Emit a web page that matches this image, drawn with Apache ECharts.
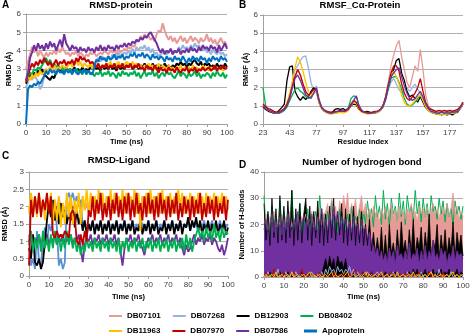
<!DOCTYPE html>
<html><head><meta charset="utf-8">
<script src="https://cdn.jsdelivr.net/npm/echarts@6/dist/echarts.min.js"></script>
<style>html,body{margin:0;padding:0;background:#fff}#c{width:474px;height:335px}</style>
</head><body><div id="c"></div><script>
// ---- shared x values ----
const timeNs = Array.from({length: 101}, (_, i) => i);
const residueIndex = [];
for (let r = 23; r <= 61; r += 2) residueIndex.push(String(r));
for (let r = 77; r <= 187; r += 2) residueIndex.push(String(r));

// ---- Panel A: RMSD-protein (Å) ----
const protDB07101 = [3.0,3.4,3.8,4.2,3.9,4.1,3.7,4.0,3.8,3.6,3.9,
 3.7,3.9,3.8,4.0,3.8,4.1,3.9,4.2,4.0,3.8,
 3.9,3.7,3.9,3.8,4.0,3.7,3.9,3.8,3.6,3.8,
 3.7,3.9,3.8,3.9,3.7,3.8,3.9,3.8,4.0,3.9,
 3.8,4.0,3.9,4.0,3.8,4.1,3.9,4.0,4.1,4.0,
 4.2,4.1,4.3,4.2,4.6,4.5,4.8,4.6,4.9,4.7,
 4.8,4.6,4.7,4.5,4.9,5.1,5.0,5.5,5.1,4.8,
 4.6,4.8,4.5,4.7,4.4,4.6,4.8,4.5,4.7,4.4,
 4.6,4.8,4.5,4.7,4.6,4.4,4.7,4.5,4.6,4.9,
 4.5,4.7,4.4,4.6,4.3,4.5,4.7,4.4,4.5,4.2];
const protDB07268 = [2.0,2.3,2.6,2.4,2.7,2.5,2.3,1.9,2.1,2.6,3.0,
 2.8,3.1,2.9,3.0,2.8,3.1,2.9,3.0,2.8,3.1,
 2.9,3.0,2.8,3.1,2.9,3.0,2.8,3.1,2.9,3.0,
 2.9,3.1,3.0,3.3,3.5,3.6,3.4,3.7,3.5,3.6,
 3.7,3.5,3.8,3.6,3.7,3.9,3.7,3.8,3.9,3.8,
 4.0,3.8,4.1,3.9,4.2,4.0,4.2,4.1,4.3,4.0,
 4.2,3.9,4.1,3.8,3.9,3.7,3.8,3.9,4.0,3.8,
 3.9,4.1,3.8,4.0,3.9,4.2,4.0,4.3,4.1,4.2,
 4.0,4.3,4.1,4.4,4.2,4.3,4.1,4.0,4.2,3.9,
 4.0,3.8,4.1,3.9,3.8,4.0,3.8,3.9,3.7,3.8];
const protDB12903 = [2.2,2.5,2.7,2.6,2.8,2.7,2.9,2.8,3.0,2.7,2.6,
 2.5,2.4,2.6,2.5,2.8,2.9,3.0,2.8,2.9,3.1,
 2.9,3.0,2.8,3.1,2.9,3.0,2.8,3.1,2.9,3.0,
 2.9,3.1,3.0,3.2,3.0,3.1,2.9,3.2,3.0,3.1,
 3.0,3.2,3.0,3.1,2.9,3.2,3.0,3.1,3.0,3.2,
 3.1,3.2,3.0,3.1,3.2,3.0,3.2,3.1,3.3,3.1,
 3.2,3.0,3.3,3.1,3.2,3.0,3.2,3.1,3.3,3.1,
 3.2,3.0,3.2,3.1,3.3,3.2,3.4,3.2,3.3,3.1,
 3.3,3.2,3.4,3.5,3.3,3.2,3.4,3.1,3.3,3.2,
 3.3,3.1,3.2,3.0,3.3,3.1,3.2,3.0,3.3,3.1];
const protDB08402 = [2.3,2.6,2.8,2.7,3.0,2.9,3.1,3.0,3.2,3.4,3.6,
 3.3,3.5,3.2,3.3,3.1,3.2,3.0,3.1,2.9,3.0,
 2.9,3.0,2.8,2.9,3.0,2.8,2.9,2.7,2.9,2.8,
 2.9,2.7,2.8,2.6,2.8,2.7,2.9,2.6,2.8,2.7,
 2.9,2.6,2.8,2.7,2.5,2.8,2.6,2.9,2.7,2.8,
 2.6,2.8,2.7,2.9,2.6,2.8,2.5,2.7,2.9,2.6,
 2.8,2.7,2.9,2.6,2.8,2.5,2.7,2.8,2.6,2.9,
 2.7,2.8,2.6,2.5,2.7,2.9,2.6,2.8,2.7,2.5,
 2.8,2.6,2.7,2.9,2.6,2.8,2.5,2.7,2.6,2.8,
 2.7,2.5,2.8,2.6,2.9,2.7,2.6,2.8,2.5,2.7];
const protDB11963 = [2.3,2.6,2.4,2.7,2.5,2.8,2.6,2.9,2.7,2.8,3.0,
 2.9,3.1,3.0,3.2,3.0,3.1,3.0,3.2,3.1,3.0,
 3.2,3.4,3.1,3.3,3.5,3.2,3.4,3.1,3.3,3.2,
 3.1,3.3,3.0,3.2,3.1,3.3,3.0,3.2,3.1,3.3,
 3.2,3.4,3.1,3.3,3.2,3.4,3.1,3.3,3.2,3.4,
 3.3,3.1,3.4,3.2,3.3,3.1,3.2,3.0,3.2,3.1,
 3.3,3.1,3.2,3.0,3.1,3.3,3.0,3.2,3.1,3.0,
 3.2,3.0,3.1,2.9,3.1,3.0,3.2,2.9,3.1,3.0,
 3.1,2.9,3.2,3.0,3.1,2.9,3.0,3.2,3.0,3.1,
 2.9,3.1,3.0,3.2,2.9,3.0,3.1,2.9,3.0,3.1];
const protDB07970 = [2.3,2.7,3.0,3.3,3.1,3.4,3.2,3.5,3.3,3.6,3.4,
 3.2,3.4,3.1,3.3,3.5,3.2,3.4,3.3,3.5,3.2,
 3.4,3.3,3.5,3.2,3.6,3.4,3.7,3.5,3.6,3.4,
 3.5,3.3,3.4,3.2,3.1,3.3,3.0,3.2,3.1,3.3,
 3.0,3.2,3.1,3.3,3.0,3.2,3.1,3.3,3.0,3.2,
 3.1,3.3,3.0,3.2,3.1,3.3,3.0,3.1,2.9,3.2,
 3.0,3.1,2.9,3.2,3.0,2.8,3.1,2.9,3.0,2.8,
 3.1,2.9,3.0,2.8,3.1,2.9,2.8,3.0,2.9,3.1,
 2.8,3.0,2.9,3.1,2.8,3.0,2.9,3.1,2.9,3.0,
 3.1,2.9,3.0,3.2,2.9,3.1,3.0,3.2,3.0,3.1];
const protDB07586 = [2.4,2.8,3.6,3.9,4.3,4.0,4.4,4.1,4.3,4.0,4.4,
 4.1,4.5,4.2,4.4,4.0,4.3,4.6,4.2,4.9,4.4,
 4.2,4.0,4.3,4.1,4.2,3.9,4.2,4.0,4.1,3.9,
 4.2,4.0,4.1,3.9,4.2,4.0,4.3,4.0,4.2,4.0,
 4.3,4.1,4.2,4.0,4.3,4.1,4.3,4.2,4.4,4.2,
 4.4,4.3,4.5,4.4,4.6,4.5,4.7,4.6,4.8,4.7,
 4.9,5.0,4.8,4.6,4.4,4.1,3.9,4.1,3.8,4.0,
 3.9,4.1,3.8,4.0,3.9,4.1,3.8,4.0,3.9,4.1,
 3.9,4.2,4.0,4.1,3.9,4.2,4.0,4.3,4.1,4.2,
 4.0,4.3,4.1,4.2,3.9,4.3,4.0,4.2,4.4,4.1];
const protApo = [0.0,1.9,2.1,2.0,2.2,2.1,2.3,2.2,2.4,2.6,2.9,
 2.7,3.0,2.8,2.9,2.7,3.0,2.8,2.9,2.7,3.0,
 2.8,2.9,2.7,3.0,2.8,2.7,2.9,2.8,3.0,2.7,
 2.9,2.8,2.7,3.1,3.5,3.4,3.7,3.5,3.6,3.4,
 3.7,3.5,3.6,3.8,3.5,3.7,3.6,3.8,3.5,3.7,
 3.6,3.8,3.7,3.9,3.6,3.8,3.7,3.9,3.6,3.8,
 3.7,3.5,3.8,3.6,3.7,3.5,3.7,3.6,3.4,3.7,
 3.5,3.6,3.4,3.7,3.5,3.6,3.4,3.7,3.5,3.3,
 3.6,3.4,3.7,3.5,3.6,3.4,3.7,3.5,3.6,3.3,
 3.6,3.4,3.7,3.5,3.6,3.4,3.7,3.5,3.6,3.4];

// ---- Panel B: RMSF Cα (Å) per residue ----
const rmsfDB07101 = [1.05,0.9,0.8,0.75,0.7,0.65,0.65,0.7,0.8,1.0,
 1.3,2.0,2.6,3.0,2.7,2.2,1.7,1.4,1.5,1.7,
 1.9,1.3,0.95,0.75,0.7,0.65,0.6,0.65,0.7,0.75,
 0.7,0.75,0.85,1.1,1.25,1.15,0.85,0.7,0.65,0.6,
 0.6,0.65,0.6,0.7,0.8,1.05,1.5,2.3,3.2,3.8,
 4.3,4.6,3.7,3.0,2.3,2.0,2.6,3.2,2.9,4.1,
 3.0,1.6,1.0,0.85,0.75,0.7,0.7,0.75,0.7,0.75,
 0.7,0.75,0.7,0.8,0.95,1.2];
const rmsfDB07268 = [1.0,0.85,0.75,0.7,0.65,0.6,0.6,0.65,0.75,0.95,
 1.4,2.3,3.0,3.2,3.5,3.7,3.75,3.1,2.3,1.8,
 2.1,1.4,0.95,0.8,0.7,0.65,0.6,0.65,0.7,0.7,
 0.7,0.75,0.8,1.0,1.2,1.15,0.85,0.7,0.65,0.6,
 0.6,0.6,0.65,0.7,0.75,0.95,1.3,1.9,2.3,2.5,
 2.2,1.9,1.7,1.9,2.0,1.8,2.0,2.2,1.9,1.7,
 1.4,1.1,0.9,0.8,0.7,0.65,0.65,0.7,0.65,0.7,
 0.65,0.7,0.7,0.75,0.9,1.15];
const rmsfDB12903 = [0.95,0.8,0.7,0.65,0.6,0.6,0.75,0.9,1.1,2.4,
 3.15,3.2,1.8,1.5,1.3,1.5,1.35,1.5,1.8,2.0,
 1.9,1.2,0.85,0.7,0.65,0.6,0.65,0.8,0.85,0.8,
 0.85,0.75,0.8,1.0,1.1,1.05,0.8,0.7,0.65,0.7,
 0.65,0.6,0.6,0.65,0.75,0.95,1.4,2.0,2.6,3.0,
 3.5,3.6,2.8,2.4,1.8,1.5,1.6,1.4,1.2,1.5,
 1.2,0.9,0.75,0.65,0.6,0.55,0.55,0.5,0.55,0.5,
 0.55,0.5,0.6,0.65,0.85,1.1];
const rmsfDB08402 = [2.0,1.0,0.8,0.7,0.65,0.6,0.6,0.65,0.75,0.95,
 1.3,1.6,1.9,2.0,1.8,1.7,1.5,1.4,1.5,1.7,
 1.8,1.2,0.9,0.75,0.65,0.6,0.6,0.6,0.65,0.7,
 0.7,0.75,0.9,1.4,1.55,1.5,1.0,0.75,0.65,0.6,
 0.6,0.6,0.65,0.7,0.8,1.0,1.4,2.0,2.5,2.6,
 2.6,2.3,1.9,1.4,1.1,1.0,1.05,1.2,1.4,1.6,
 1.4,1.0,0.8,0.7,0.65,0.6,0.6,0.65,0.6,0.65,
 0.6,0.65,0.65,0.7,0.9,1.1];
const rmsfDB11963 = [1.0,0.85,0.75,0.7,0.65,0.6,0.6,0.7,0.85,1.2,
 1.7,2.3,3.1,3.7,3.4,2.9,2.3,1.8,1.6,1.7,
 1.8,1.2,0.85,0.7,0.6,0.55,0.55,0.6,0.6,0.65,
 0.6,0.65,0.75,1.0,1.2,1.1,0.8,0.65,0.6,0.55,
 0.55,0.6,0.6,0.65,0.75,1.0,1.5,2.2,2.7,2.9,
 2.6,2.2,1.6,1.2,1.0,1.0,1.1,1.3,1.5,1.6,
 1.3,0.95,0.75,0.65,0.6,0.55,0.5,0.55,0.5,0.55,
 0.55,0.6,0.6,0.7,0.85,1.1];
const rmsfDB07970 = [1.1,0.95,0.85,0.8,0.7,0.65,0.65,0.75,0.85,1.1,
 1.5,2.1,2.6,3.0,2.7,2.2,1.8,1.6,1.7,1.9,
 1.9,1.3,0.9,0.75,0.7,0.65,0.65,0.7,0.7,0.75,
 0.7,0.75,0.85,1.1,1.3,1.2,0.85,0.7,0.65,0.65,
 0.6,0.65,0.7,0.7,0.8,1.0,1.5,2.2,2.8,3.2,
 3.2,2.9,2.2,1.7,1.4,1.3,1.5,1.7,2.0,2.5,
 1.8,1.2,0.9,0.8,0.75,0.7,0.75,0.7,0.75,0.7,
 0.75,0.7,0.75,0.8,0.95,1.2];
const rmsfDB07586 = [1.0,0.85,0.75,0.7,0.65,0.6,0.6,0.7,0.8,1.0,
 1.4,2.0,2.5,2.7,2.4,2.0,1.6,1.5,1.4,1.7,
 2.0,1.3,0.9,0.75,0.65,0.6,0.6,0.65,0.7,0.7,
 0.7,0.7,0.8,1.0,1.3,1.55,1.0,0.75,0.65,0.6,
 0.6,0.6,0.65,0.7,0.8,1.0,1.4,2.1,2.6,2.8,
 3.0,3.1,2.6,2.1,1.7,1.4,1.3,1.4,1.6,1.8,
 1.5,1.1,0.85,0.7,0.65,0.6,0.6,0.65,0.6,0.6,
 0.6,0.65,0.65,0.7,0.9,1.15];

// ---- Panel C: RMSD-Ligand (Å) ----
const ligDB07101 = [1.9,2.2,1.8,2.3,1.9,2.1,1.8,2.2,1.9,2.3,1.8,
 2.1,1.9,2.2,1.8,2.3,1.9,2.1,1.8,2.2,1.9,
 2.3,1.8,2.1,1.9,2.2,1.8,2.3,1.9,2.1,1.8,
 2.2,1.9,2.3,1.8,2.1,1.9,2.2,1.8,2.3,1.9,
 2.1,1.8,2.2,1.9,2.3,1.8,2.1,1.9,2.2,1.8,
 2.3,1.9,2.1,1.8,2.2,1.9,2.3,1.8,2.1,1.9,
 2.2,1.8,2.3,1.9,2.1,1.8,2.2,1.9,2.3,1.8,
 2.1,1.9,2.2,1.8,2.3,1.9,2.1,1.8,2.2,1.9,
 2.3,1.8,2.1,1.9,2.2,1.8,2.3,1.9,2.1,1.8,
 2.2,1.9,2.3,1.8,2.1,1.9,2.2,1.8,2.3,1.9];
const ligDB07268 = [1.2,0.3,0.5,0.2,1.3,0.4,0.3,1.0,1.4,0.9,1.5,
 1.3,1.6,2.0,1.4,0.3,0.5,0.2,0.4,2.2,2.4,
 2.2,2.4,2.1,2.3,2.0,2.2,1.4,1.6,1.3,1.5,
 1.4,1.6,1.3,1.5,1.4,1.6,1.3,1.5,1.4,1.6,
 1.3,1.5,1.4,1.6,1.3,1.5,1.4,1.6,1.3,1.5,
 1.4,1.6,1.3,1.5,1.4,1.6,1.5,1.3,1.4,1.6,
 1.3,1.5,1.4,1.6,1.3,1.5,1.4,1.6,1.3,1.5,
 1.4,1.6,1.3,1.5,1.4,1.6,1.3,1.5,1.4,1.6,
 1.3,1.5,1.4,1.6,1.3,1.5,1.4,1.6,1.3,1.5,
 1.4,1.6,1.3,1.5,1.4,1.6,1.3,1.5,1.4,1.5];
const ligDB12903 = [0.8,0.5,1.2,0.4,0.3,0.5,0.2,0.4,1.0,1.6,2.1,
 1.7,2.2,1.6,2.0,1.5,2.1,1.7,1.9,1.5,1.8,
 1.6,2.0,1.4,1.9,1.5,1.7,1.3,1.6,1.2,1.5,
 1.3,1.6,1.2,1.5,1.3,1.6,1.2,1.5,1.3,1.6,
 1.2,1.5,1.3,1.6,1.2,1.5,1.3,1.6,1.2,1.5,
 1.3,1.6,1.2,1.4,1.3,1.6,1.2,1.5,1.3,1.6,
 1.2,1.5,1.3,1.6,1.2,1.4,1.3,1.6,1.2,1.5,
 1.3,1.6,1.2,1.5,1.3,1.6,1.2,1.5,1.4,1.7,
 1.3,1.6,1.4,1.7,1.3,1.6,1.2,1.5,1.3,1.6,
 1.2,1.5,1.3,1.6,1.2,1.5,1.3,1.6,1.2,1.4];
const ligDB08402 = [0.9,1.3,0.7,1.1,0.8,1.2,0.7,1.3,0.8,1.1,0.7,
 1.2,0.8,1.3,0.9,1.2,0.7,1.1,0.8,1.3,0.9,
 1.2,0.8,1.1,0.7,1.0,0.6,0.9,0.7,1.1,0.8,
 1.0,0.7,1.1,0.8,1.0,0.7,1.1,0.8,1.0,0.7,
 1.1,0.8,1.0,0.7,1.1,0.6,1.0,0.8,1.1,0.7,
 1.0,0.8,1.1,0.7,1.0,0.8,1.1,0.7,1.0,0.8,
 1.1,0.7,1.0,0.8,1.1,0.7,1.0,0.8,1.1,0.7,
 1.0,0.8,1.1,0.7,1.0,0.8,1.1,0.7,1.2,0.8,
 1.1,0.7,1.0,1.2,1.4,1.1,1.3,1.0,1.4,1.1,
 1.3,1.0,1.5,1.1,1.3,1.0,1.4,1.1,1.3,1.2];
const ligDB11963 = [1.8,2.4,2.0,2.3,1.7,2.4,2.0,2.2,1.6,2.3,1.9,
 2.4,1.5,2.2,1.6,2.3,1.4,2.1,1.5,2.4,1.7,
 2.3,1.5,2.2,1.8,2.4,1.5,2.3,1.9,2.5,1.8,
 2.4,1.9,2.3,1.8,2.5,2.0,2.4,1.8,2.3,1.9,
 2.5,1.8,2.4,2.0,2.3,1.9,2.5,1.8,2.4,2.0,
 2.3,1.9,2.5,1.8,2.4,1.3,2.3,1.9,2.4,1.8,
 2.5,2.0,2.3,1.8,2.4,1.9,2.5,1.8,2.3,2.0,
 2.4,1.8,2.3,1.9,2.5,2.0,2.4,1.8,2.3,1.9,
 2.4,2.0,2.3,1.8,2.4,1.9,2.3,1.8,2.4,2.0,
 2.3,1.9,2.4,1.8,2.3,2.0,2.4,1.9,2.3,1.9];
const ligDB07970 = [0.3,2.2,1.7,2.3,1.8,2.4,1.7,2.2,1.9,2.4,1.8,
 2.3,1.2,1.1,1.3,1.1,1.2,1.1,1.3,1.2,1.1,
 1.8,1.9,1.7,1.0,0.9,1.2,0.9,1.3,1.0,1.9,
 1.7,2.3,1.6,2.2,1.8,2.4,1.6,2.1,1.7,2.3,
 1.6,2.2,1.8,2.4,1.7,2.2,1.6,2.3,1.8,2.4,
 1.6,2.2,1.7,2.4,1.8,2.1,1.6,2.3,1.7,2.4,
 1.8,2.2,1.6,2.3,1.7,2.4,1.8,2.2,1.6,2.3,
 1.7,2.2,1.8,2.4,1.6,2.1,1.7,2.3,1.8,2.2,
 1.6,2.3,1.7,2.2,1.8,2.4,1.6,2.1,1.7,2.3,
 1.8,2.2,1.6,2.3,1.7,2.1,1.8,2.3,1.6,2.2];
const ligDB07586 = [1.0,1.2,0.9,1.1,1.0,1.2,0.9,1.1,1.0,1.2,0.9,
 1.1,1.0,1.2,0.9,1.1,1.0,1.2,0.9,1.1,1.0,
 1.2,0.9,1.1,1.0,1.2,0.8,0.4,0.9,1.1,1.0,
 1.2,0.9,1.1,1.0,1.2,0.9,1.1,1.0,1.2,0.9,
 1.1,1.0,1.2,0.9,1.1,0.7,0.3,0.8,1.1,1.0,
 1.2,0.9,1.1,1.0,1.2,0.9,0.8,0.6,0.9,1.1,
 1.0,1.2,0.9,1.1,1.0,1.2,0.9,1.1,1.0,1.2,
 0.9,1.1,1.0,1.2,0.9,1.1,0.8,0.6,0.9,0.7,
 0.8,1.0,1.2,0.9,1.1,1.0,1.2,0.9,1.1,1.0,
 1.2,0.9,1.1,1.0,0.8,0.7,0.9,0.6,0.8,1.1];

// ---- Panel D: number of hydrogen bonds ----
const hbDB08402 = [31,18,24,15,27,20,23,16,29,19,25,
 17,26,20,33,18,24,21,28,16,22,
 19,26,17,23,20,25,18,31,20,24,
 18,25,21,29,19,23,17,26,20,22,
 18,24,20,27,19,23,21,26,18,25,
 20,29,22,26,19,31,23,27,20,33,
 22,28,19,30,24,27,21,32,23,29,
 20,31,25,27,22,33,24,29,21,30,
 23,28,20,31,25,27,22,30,24,29,
 21,28,23,26,20,29,24,27,22,27];
const hbDB07101 = [20,24,18,23,21,25,19,22,20,24,19,
 23,21,25,19,22,20,24,18,23,21,
 24,20,22,25,19,23,21,26,20,24,
 25,28,22,30,24,27,21,29,25,31,
 26,32,23,28,25,30,22,27,31,24,
 28,23,26,22,27,24,25,21,26,23,
 27,22,25,28,23,26,21,27,24,25,
 22,26,24,28,23,25,21,27,24,26,
 23,27,22,25,28,24,26,22,27,25,
 24,28,23,26,32,24,27,22,25,23];
const hbDB12903 = [28,14,25,12,30,15,26,13,31,14,27,
 13,29,15,33,12,26,14,28,13,24,
 30,14,27,12,25,15,29,13,26,12,
 24,13,27,15,30,14,25,16,28,13,
 26,12,24,14,27,12,23,13,25,12,
 20,12,22,10,17,9,15,8,19,7,
 16,6,20,9,13,7,18,8,21,10,
 14,7,18,9,22,8,15,11,19,7,
 17,10,24,8,14,11,20,7,16,9,
 18,8,15,10,21,7,17,11,16,8];
const hbDB07586 = [18,22,15,20,24,17,21,19,23,16,22,
 18,24,20,17,22,19,25,18,21,23,
 19,22,17,24,20,18,23,21,26,19,
 22,18,24,20,27,21,25,19,23,20,
 22,18,21,17,23,19,20,16,22,18,
 19,15,17,13,12,9,11,7,10,6,
 9,6,11,7,10,5,12,8,9,6,
 10,7,13,6,9,8,11,5,10,7,
 12,6,10,8,14,7,9,6,11,8,
 10,5,9,7,12,6,10,8,9,7];
const hbDB12903low = [0,1,0,2,0,1,0,0,2,0,1,
 0,2,0,1,0,0,1,0,2,0,
 1,0,0,2,0,1,0,0,1,4,
 7,3,8,4,7,2,8,5,6,3,
 7,2,1,0,2,0,1,0,0,2,
 0,1,0,2,0,1,0,0,1,0,
 2,0,1,0,0,2,0,1,0,0,
 1,0,2,0,3,1,3,0,2,1,
 3,0,2,1,3,0,2,1,3,0,
 2,1,3,0,2,1,3,0,2,1];
const hbDB07268 = [1,0,2,0,0,1,0,3,0,1,0,
 2,0,0,1,0,2,0,0,1,0,
 0,1,0,2,0,0,1,0,2,0,
 3,1,4,2,3,1,4,2,3,1,
 3,2,4,1,3,0,2,0,1,0,
 0,2,0,1,0,0,2,0,1,0,
 0,1,0,0,2,0,1,0,0,1,
 0,2,0,1,0,0,1,0,2,0,
 1,0,0,2,0,1,0,3,0,1,
 0,1,0,2,0,0,1,0,1,0];
const hbDB07970 = [0,2,0,1,0,3,0,0,1,0,2,
 0,1,0,0,2,0,1,0,3,0,
 1,0,2,0,0,1,0,2,0,1,
 0,0,1,0,2,0,0,1,0,0,
 2,0,1,0,0,3,0,1,0,2,
 0,1,0,2,0,0,1,0,2,0,
 1,0,0,2,0,1,0,0,1,0,
 2,0,1,0,0,1,0,2,0,0,
 1,0,2,0,1,0,0,1,0,2,
 0,1,0,0,2,0,1,0,0,1];
const hbDB11963 = [0,1,0,0,1,0,2,0,0,1,0,
 0,1,0,2,0,0,1,0,0,1,
 0,0,2,0,1,0,0,1,0,0,
 1,0,0,2,0,1,0,0,1,0,
 0,2,0,0,1,0,0,1,0,0,
 2,0,1,0,0,1,0,0,2,0,
 0,1,0,0,1,0,2,0,0,1,
 0,0,1,0,2,0,0,1,0,0,
 1,0,0,2,0,1,0,0,1,0,
 0,1,0,0,2,0,1,0,0,1];

const colors = {DB07101:'#e79b96', DB07268:'#95b5de', DB12903:'#000000', DB08402:'#00b050',
  DB11963:'#ffc000', DB07970:'#c00000', DB07586:'#7030a0', Apoprotein:'#0070c0'};

[protDB07101,protDB07268,protDB12903,protDB08402,protDB11963,protDB07970,protDB07586,protApo,
 ligDB07101,ligDB07268,ligDB12903,ligDB08402,ligDB11963,ligDB07970,ligDB07586,
 hbDB08402,hbDB07101,hbDB12903,hbDB07586,hbDB12903low,hbDB07268,hbDB07970,hbDB11963].forEach((a,i)=>{
  if (a.length !== 101) throw new Error('time series '+i+' has length '+a.length);
});
[rmsfDB07101,rmsfDB07268,rmsfDB12903,rmsfDB08402,rmsfDB11963,rmsfDB07970,rmsfDB07586].forEach((a,i)=>{
  if (a.length !== residueIndex.length) throw new Error('rmsf '+i+' has length '+a.length);
});

const FONT = 'Liberation Sans, Arial, sans-serif';
const ts = vals => vals.map((v, i) => [timeNs[i], v]);
function line(name, g, data, width, extra) {
  return Object.assign({
    type: 'line', name, xAxisIndex: g, yAxisIndex: g, data, symbol: 'none',
    animation: false, silent: true,
    lineStyle: {color: colors[name], width: width},
    itemStyle: {color: colors[name]}
  }, extra || {});
}
function area(name, g, data) {
  return line(name, g, data, 0.8, {areaStyle: {color: colors[name], opacity: 1}});
}

const lbl = {fontSize: 8, color: '#404040', fontFamily: FONT};
const nameStyle = {fontSize: 7.5, fontWeight: 'bold', color: '#000', fontFamily: FONT};
const axLine = {show: true, lineStyle: {color: '#a0a0a0'}};
const split = {show: true, lineStyle: {color: '#b0b0b0', width: 1}};

function timeX(g, margin, gap) {
  return {gridIndex: g, type: 'value', min: 0, max: 100, interval: 10,
    axisLabel: Object.assign({margin: margin}, lbl), axisLine: axLine,
    axisTick: {show: true, length: 3, lineStyle: {color: '#a0a0a0'}}, splitLine: {show: false},
    name: 'Time (ns)', nameLocation: 'middle', nameGap: gap, nameTextStyle: nameStyle};
}
function valY(g, max, interval, name, gap) {
  return {gridIndex: g, type: 'value', min: 0, max: max, interval: interval,
    axisLabel: Object.assign({margin: 5}, lbl), axisLine: axLine,
    axisTick: {show: true, length: 3, lineStyle: {color: '#a0a0a0'}}, splitLine: split,
    name: name, nameLocation: 'middle', nameGap: gap, nameRotate: 90, nameTextStyle: nameStyle};
}

const series = [];
[['DB07101',protDB07101],['DB07268',protDB07268],['DB12903',protDB12903],['DB08402',protDB08402],
 ['DB11963',protDB11963],['DB07970',protDB07970],['DB07586',protDB07586],['Apoprotein',protApo]]
 .forEach(([n, d]) => series.push(line(n, 0, ts(d), 2)));
[['DB07101',rmsfDB07101],['DB07268',rmsfDB07268],['DB12903',rmsfDB12903],['DB08402',rmsfDB08402],
 ['DB11963',rmsfDB11963],['DB07970',rmsfDB07970],['DB07586',rmsfDB07586]]
 .forEach(([n, d]) => series.push(line(n, 1, d, 1.3)));
[['DB07101',ligDB07101],['DB07268',ligDB07268],['DB07586',ligDB07586],['DB12903',ligDB12903],
 ['DB08402',ligDB08402],['DB11963',ligDB11963],['DB07970',ligDB07970]]
 .forEach(([n, d]) => series.push(line(n, 2, ts(d), 1.8,
   n === 'DB07268' ? {lineStyle: {color: '#5b8fd6', width: 1.8}} : {})));
series.push(line('DB08402', 3, ts(hbDB08402), 1));
series.push(area('DB07101', 3, ts(hbDB07101)));
series.push(area('DB12903', 3, ts(hbDB12903)));
series.push(area('DB07586', 3, ts(hbDB07586)));
series.push(area('DB12903', 3, ts(hbDB12903low)));
series.push(line('DB07268', 3, ts(hbDB07268), 1));
series.push(line('DB07970', 3, ts(hbDB07970), 1));
series.push(line('DB11963', 3, ts(hbDB11963), 1));

const legBase = {orient: 'horizontal', icon: 'rect', itemWidth: 13, itemHeight: 2, itemGap: 12,
  textStyle: {fontSize: 8, fontWeight: 'bold', color: '#000', fontFamily: FONT}, selectedMode: false};

const txt = (text, x, y, size, align) => ({type: 'text', x: x, y: y, silent: true,
  style: {text: text, fontSize: size, fontWeight: 'bold', fontFamily: FONT, fill: '#000',
  textAlign: align || 'left', textVerticalAlign: 'middle'}});

const chart = echarts.init(document.getElementById('c'), null, {renderer: 'canvas'});
chart.setOption({
  backgroundColor: '#fff',
  animation: false,
  grid: [
    {left: 26, top: 14, width: 201, height: 110},
    {left: 263, top: 15, width: 200, height: 109},
    {left: 26, top: 172, width: 202, height: 104},
    {left: 264, top: 172, width: 199, height: 105}
  ],
  xAxis: [
    timeX(0, 5, 14),
    {gridIndex: 1, type: 'category', data: residueIndex, boundaryGap: false,
     axisLabel: Object.assign({margin: 5, interval: 9}, lbl), axisLine: axLine,
     axisTick: {show: true, length: 3, interval: 9, lineStyle: {color: '#a0a0a0'}}, splitLine: {show: false},
     name: 'Residue index', nameLocation: 'middle', nameGap: 14, nameTextStyle: nameStyle},
    timeX(2, 5, 17),
    timeX(3, 5, 16)
  ],
  yAxis: [
    valY(0, 6, 1, 'RMSD (Å)', 13),
    valY(1, 6, 1, 'RMSF (Å)', 11),
    valY(2, 3, 0.5, 'RMSD (Å)', 13),
    valY(3, 40, 10, 'Number of H-bonds', 10)
  ],
  legend: [
    Object.assign({left: 104, top: 307, data: ['DB07101','DB07268','DB12903','DB08402']}, legBase),
    Object.assign({left: 104, top: 322, data: ['DB11963','DB07970','DB07586']}, legBase),
    Object.assign({}, legBase, {left: 299, top: 322, itemHeight: 3, data: ['Apoprotein']})
  ],
  graphic: [
    txt('A', 2, 5, 10), txt('RMSD-protein', 121, 5, 9.5, 'center'),
    txt('B', 239, 5, 10), txt('RMSF_Cα-Protein', 360, 5, 9.5, 'center'),
    txt('C', 2, 156, 10), txt('RMSD-Ligand', 119, 160, 9.5, 'center'),
    txt('D', 239, 165, 10), txt('Number of hydrogen bond', 362, 162, 9.5, 'center')
  ],
  series: series
});
</script></body></html>
